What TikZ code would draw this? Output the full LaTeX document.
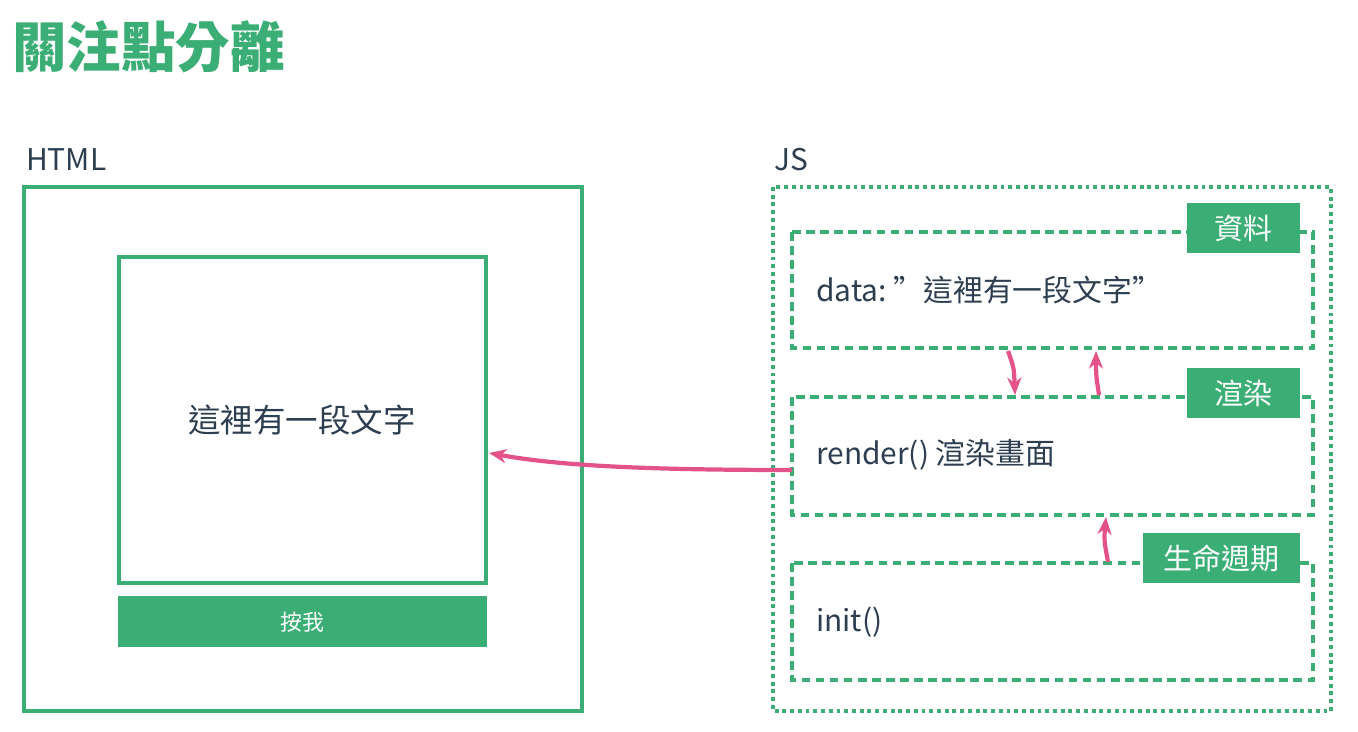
\documentclass[tikz,border=0pt]{standalone}
\usepackage{fontspec}
\setmainfont{Noto Sans CJK TC}
\usetikzlibrary{arrows.meta,calc}
\definecolor{vgreen}{HTML}{3AAE74}
\definecolor{vpink}{HTML}{E4528A}
\definecolor{vtext}{HTML}{2C3E50}
\tikzset{
  box/.style={draw=vgreen,line width=2.2pt},
  jsbox/.style={draw=vgreen,line width=2.2pt,dash pattern=on 5pt off 3pt},
  tag/.style={fill=vgreen,text=white,font=\fontsize{16.5}{18}\selectfont,anchor=north west},
  txt/.style={text=vtext,font=\fontsize{17}{19}\selectfont,anchor=west},
  flow/.style={-{Stealth[length=10pt,width=8pt]},draw=vpink,line width=2.4pt}
}
\begin{document}
\begin{tikzpicture}[x=0.02cm,y=-0.02cm]
    \useasboundingbox (0,0) rectangle (1358,732);

    % Title
    \node[anchor=west,text=vgreen,font=\fontsize{31}{34}\selectfont\bfseries] (title) at (6,47) {關注點分離};

    % HTML side
    \node[txt] (htmllbl) at (20,160) {HTML};
    \draw[box] (24,187) rectangle (582,711);
    \draw[box] (119,257) rectangle (486,583);
    \coordinate (inner) at (489,453);
    \node[text=vtext,font=\fontsize{18.5}{21}\selectfont] (content) at (302,420) {這裡有一段文字};
    \node[fill=vgreen,text=white,minimum width=369*0.02cm,minimum height=51*0.02cm,
      font=\fontsize{12.5}{14}\selectfont,anchor=north west] (btn) at (118,596) {按我};

    % JS side
    \node[txt] (jslbl) at (768,160) {JS};
    \draw[draw=vgreen,line width=2.2pt,dash pattern=on 2.2pt off 2.2pt] (773,187) rectangle (1331,711);
    \draw[jsbox] (792,232) rectangle (1313,348);
    \draw[jsbox] (792,397) rectangle (1313,515);
    \draw[jsbox] (792,563) rectangle (1313,680);
    \node[tag,minimum width=113*0.02cm,minimum height=50*0.02cm] (tdata) at (1187,203) {資料};
    \node[tag,minimum width=113*0.02cm,minimum height=50*0.02cm] (trender) at (1187,368) {渲染};
    \node[tag,minimum width=157*0.02cm,minimum height=50*0.02cm] (tlife) at (1143,533) {生命週期};
    \node[txt] (data) at (810,290) {data:\ \symbol{34}這裡有一段文字\symbol{34}};
    \node[txt] (render) at (810,455) {render() 渲染畫面};
    \node[txt] (init) at (810,622) {init()};

    % Arrows
    \coordinate (rl) at (792,470);
    \coordinate (d1) at (1008,351);
    \coordinate (r1) at (1015,395);
    \coordinate (r2) at (1099,395);
    \coordinate (d2) at (1096,351);
    \coordinate (i1) at (1108,562);
    \coordinate (r3) at (1106,517);
    \draw[flow] (rl) .. controls (650,470) and (560,466) .. (inner);
    \draw[flow] (d1) .. controls (1014,368) .. (r1);
    \draw[flow] (r2) .. controls (1096,375) .. (d2);
    \draw[flow] (i1) .. controls (1104,540) .. (r3);
\end{tikzpicture}
\end{document}
